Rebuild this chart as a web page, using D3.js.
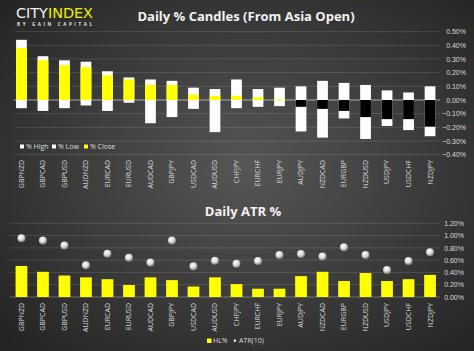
<!DOCTYPE html>
<html>
<head>
<meta charset="utf-8">
<script src="https://cdn.jsdelivr.net/npm/d3@7"></script>
<style>
  body { margin: 0; background: #2a2a2a; }
  svg { display: block; font-family: "Open Sans", sans-serif; }
</style>
</head>
<body>
<div id="chart"></div>
<script>
// pairs, left to right
const pairs = ["GBPNZD","GBPCAD","GBPUSD","AUDNZD","EURCAD","EURUSD","AUDCAD","GBPJPY","USDCAD","AUDUSD",
  "CHFJPY","EURCHF","EURJPY","AUDJPY","NZDCAD","EURGBP","NZDUSD","USDJPY","USDCHF","NZDJPY"];

// daily candles from Asia open (%)
const highPct  = [0.44,0.32,0.29,0.28,0.21,0.165,0.15,0.14,0.09,0.08,0.15,0.08,0.09,0.10,0.14,0.125,0.11,0.07,0.055,0.10];
const lowPct   = [-0.06,-0.08,-0.06,-0.04,-0.08,-0.02,-0.17,-0.125,-0.065,-0.235,-0.06,-0.05,-0.045,-0.23,-0.275,-0.135,-0.285,-0.19,-0.22,-0.265];
const closePct = [0.38,0.29,0.255,0.24,0.18,0.15,0.11,0.11,0.04,0.03,0.03,0.02,0.005,-0.05,-0.065,-0.08,-0.125,-0.14,-0.14,-0.195];

// daily ATR (%)
const hlPct  = [0.505,0.41,0.35,0.32,0.29,0.195,0.32,0.275,0.17,0.32,0.21,0.135,0.135,0.34,0.41,0.26,0.39,0.26,0.29,0.36];
const atr10  = [0.955,0.92,0.84,0.515,0.705,0.64,0.56,0.92,0.50,0.59,0.54,0.585,0.685,0.70,0.66,0.81,0.685,0.44,0.585,0.73];

const candleTicks = [0.5,0.4,0.3,0.2,0.1,0,-0.1,-0.2,-0.3,-0.4];
const atrTicks = [0,0.2,0.4,0.6,0.8,1.0,1.2];

const W = 474, H = 351;
const data = pairs.map((p, i) => ({pair: p, high: highPct[i], low: lowPct[i], close: closePct[i], hl: hlPct[i], atr: atr10[i]}));

const svg = d3.select("#chart").append("svg")
  .attr("width", W).attr("height", H);

const defs = svg.append("defs");
const bg = defs.append("radialGradient").attr("id", "bg")
  .attr("cx", "52%").attr("cy", "48%").attr("r", "70%");
bg.append("stop").attr("offset", "0%").attr("stop-color", "#565656");
bg.append("stop").attr("offset", "100%").attr("stop-color", "#242424");

const ball = defs.append("radialGradient").attr("id", "ball")
  .attr("cx", "40%").attr("cy", "35%").attr("r", "65%");
ball.append("stop").attr("offset", "0%").attr("stop-color", "#ffffff");
ball.append("stop").attr("offset", "55%").attr("stop-color", "#d8d8d8");
ball.append("stop").attr("offset", "100%").attr("stop-color", "#7a7a7a");

svg.append("rect").attr("width", W).attr("height", H).attr("fill", "url(#bg)");

// logo
const logo = svg.append("text")
  .attr("x", 16).attr("y", 18)
  .style("font-family", "'DejaVu Sans', sans-serif")
  .style("font-size", "14px")
  .attr("textLength", 77).attr("lengthAdjust", "spacingAndGlyphs");
logo.append("tspan").attr("fill", "#f2f2f2").text("CITY");
logo.append("tspan").attr("fill", "#f0f000").text("INDEX");
svg.append("text")
  .attr("x", 17).attr("y", 25.5)
  .attr("fill", "#e0e0e0")
  .style("font-size", "4.5px").attr("font-weight", "bold")
  .attr("textLength", 75).attr("lengthAdjust", "spacing")
  .text("BY GAIN CAPITAL");

// shared x scale
const x = d3.scaleBand()
  .domain(pairs)
  .range([10.7, 440.8])
  .paddingInner(0.5)
  .paddingOuter(0.25);

const gridColor = "rgba(255,255,255,0.12)";
const labelColor = "#dcdcdc";

// ---------- top: candles ----------
const yTop = d3.scaleLinear().domain([-0.4, 0.5]).range([154.7, 31.6]);

svg.append("text")
  .attr("x", 246).attr("y", 21)
  .attr("text-anchor", "middle")
  .attr("fill", "#f2f2f2")
  .attr("font-weight", "bold")
  .style("font-size", "13px")
  .text("Daily % Candles (From Asia Open)");

svg.append("g")
  .selectAll("line")
  .data(candleTicks)
  .join("line")
  .attr("x1", 14).attr("x2", 440)
  .attr("y1", d => yTop(d)).attr("y2", d => yTop(d))
  .attr("stroke", d => d === 0 ? "rgba(255,255,255,0.55)" : gridColor)
  .attr("stroke-width", 1);

svg.append("g")
  .attr("transform", "translate(466,0)")
  .call(d3.axisRight(yTop).tickValues(candleTicks).tickSize(0).tickPadding(0)
    .tickFormat(d => d3.format(".2f")(d) + "%"))
  .call(g => g.select(".domain").remove())
  .selectAll("text")
  .attr("text-anchor", "end")
  .attr("fill", labelColor)
  .style("font-size", "7px");

const candles = svg.append("g");
candles.selectAll("rect.range")
  .data(data)
  .join("rect")
  .attr("class", "range")
  .attr("x", d => x(d.pair))
  .attr("width", x.bandwidth())
  .attr("y", d => yTop(d.high))
  .attr("height", d => yTop(d.low) - yTop(d.high))
  .attr("fill", "#ffffff");

candles.selectAll("rect.close")
  .data(data)
  .join("rect")
  .attr("class", "close")
  .attr("x", d => x(d.pair))
  .attr("width", x.bandwidth())
  .attr("y", d => yTop(Math.max(0, d.close)))
  .attr("height", d => Math.max(1, Math.abs(yTop(d.close) - yTop(0))))
  .attr("fill", d => d.close >= 0 ? "#ffff00" : "#000000");

// top legend
const legTop = [{t: "% High", c: "#ffffff"}, {t: "% Low", c: "#ffffff"}, {t: "% Close", c: "#ffff00"}];
const legX = [20, 52, 84];
const lt = svg.append("g").selectAll("g").data(legTop).join("g")
  .attr("transform", (d, i) => `translate(${legX[i]},147)`);
lt.append("rect").attr("x", 0).attr("y", -2.5).attr("width", 4).attr("height", 4).attr("fill", d => d.c);
lt.append("text").attr("x", 6).attr("y", 2.2).attr("fill", labelColor)
  .style("font-size", "7px").text(d => d.t);

// top category labels
svg.append("g").selectAll("text")
  .data(pairs)
  .join("text")
  .attr("transform", d => `translate(${x(d) + x.bandwidth() / 2},160) rotate(-90)`)
  .attr("text-anchor", "end")
  .attr("dy", "0.35em")
  .attr("fill", labelColor)
  .style("font-size", "7px")
  .text(d => d);

// ---------- bottom: ATR ----------
const yBot = d3.scaleLinear().domain([0, 1.2]).range([297, 223.3]);

svg.append("text")
  .attr("x", 243).attr("y", 216)
  .attr("text-anchor", "middle")
  .attr("fill", "#f2f2f2")
  .attr("font-weight", "bold")
  .style("font-size", "13px")
  .text("Daily ATR %");

svg.append("g")
  .selectAll("line")
  .data(atrTicks)
  .join("line")
  .attr("x1", 10).attr("x2", 440)
  .attr("y1", d => yBot(d)).attr("y2", d => yBot(d))
  .attr("stroke", d => d === 0 ? "rgba(255,255,255,0.3)" : gridColor);

svg.append("g")
  .attr("transform", "translate(464,0)")
  .call(d3.axisRight(yBot).tickValues(atrTicks).tickSize(0).tickPadding(0)
    .tickFormat(d => d3.format(".2f")(d) + "%"))
  .call(g => g.select(".domain").remove())
  .selectAll("text")
  .attr("text-anchor", "end")
  .attr("fill", labelColor)
  .style("font-size", "7px");

svg.append("g").selectAll("rect")
  .data(data)
  .join("rect")
  .attr("x", d => x(d.pair) - 0.5)
  .attr("width", x.bandwidth() + 1)
  .attr("y", d => yBot(d.hl))
  .attr("height", d => yBot(0) - yBot(d.hl))
  .attr("fill", "#ffff00");

svg.append("g").selectAll("circle")
  .data(data)
  .join("circle")
  .attr("cx", d => x(d.pair) + x.bandwidth() / 2)
  .attr("cy", d => yBot(d.atr))
  .attr("r", 4)
  .attr("fill", "url(#ball)");

svg.append("g").selectAll("text")
  .data(pairs)
  .join("text")
  .attr("transform", d => `translate(${x(d) + x.bandwidth() / 2},303) rotate(-90)`)
  .attr("text-anchor", "end")
  .attr("dy", "0.35em")
  .attr("fill", labelColor)
  .style("font-size", "7px")
  .text(d => d);

// bottom legend
const lb = svg.append("g").attr("transform", "translate(207,341)");
lb.append("rect").attr("x", 0).attr("y", -2.5).attr("width", 4.5).attr("height", 4.5).attr("fill", "#ffff00");
lb.append("text").attr("x", 6).attr("y", 2.2).attr("fill", labelColor).style("font-size", "7px").text("HL%");
lb.append("circle").attr("cx", 28).attr("cy", -0.3).attr("r", 1.5).attr("fill", "url(#ball)");
lb.append("text").attr("x", 32).attr("y", 2.2).attr("fill", labelColor).style("font-size", "7px").text("ATR(10)");
</script>
</body>
</html>
